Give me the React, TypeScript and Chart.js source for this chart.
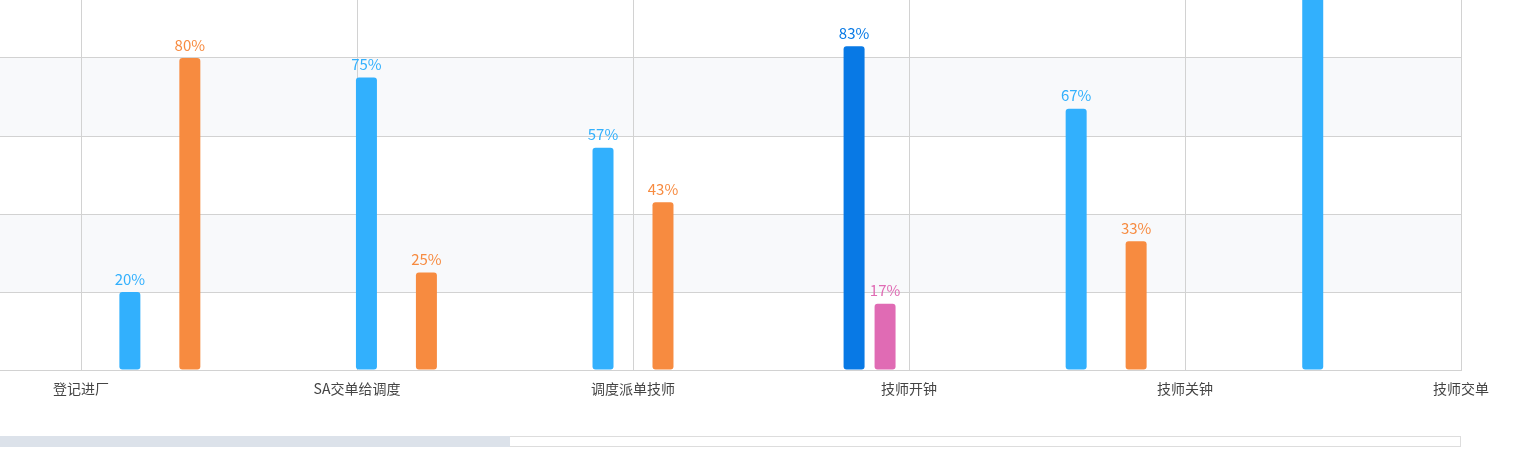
import { useEffect, useRef } from "react";
import { Chart, registerables, type ChartConfiguration, type Plugin } from "chart.js";

Chart.register(...registerables);

// process steps (first one sits left of the visible area)
const steps = ["预约", "登记进厂", "SA交单给调度", "调度派单技师", "技师开钟", "技师关钟", "技师交单"];
const onTimeRate = [null, 20, 75, 57, null, 67, 100];
const overtimeRate = [null, 80, 25, 43, null, 33, 0];
// the selected step is drawn with its own colours
const currentOnTime = [null, null, null, null, 83, null, null];
const currentOvertime = [null, null, null, null, 17, null, null];
const yTicks = [0, 20, 40, 60, 80, 100];

const BLUE = "#32b0fd";
const ORANGE = "#f78b40";
const DARK_BLUE = "#0879e5";
const PINK = "#e06bb4";
const GRID = "#d2d2d2";
const STRIPE = "#f8f9fb";
const FONT = '"Noto Sans CJK SC", "Noto Sans", sans-serif';

const stripePlugin: Plugin<"bar"> = {
  id: "stripes",
  beforeDraw(chart) {
    const { ctx, chartArea } = chart;
    const y = chart.scales.y;
    ctx.save();
    ctx.fillStyle = STRIPE;
    for (let i = 1; i < yTicks.length - 1; i += 2) {
      const top = y.getPixelForValue(yTicks[i + 1]);
      const bottom = y.getPixelForValue(yTicks[i]);
      ctx.fillRect(chartArea.left, top, chartArea.width, bottom - top);
    }
    ctx.restore();
  },
};

// percentage above each bar, empty values get no label
const valueLabelPlugin: Plugin<"bar"> = {
  id: "valueLabels",
  afterDatasetsDraw(chart) {
    const { ctx } = chart;
    ctx.save();
    ctx.font = `15px ${FONT}`;
    ctx.textAlign = "center";
    ctx.textBaseline = "middle";
    chart.data.datasets.forEach((ds, i) => {
      const meta = chart.getDatasetMeta(i);
      meta.data.forEach((bar, j) => {
        const v = ds.data[j] as number | null;
        if (!v) return;
        ctx.fillStyle = ds.backgroundColor as string;
        ctx.fillText(`${v}%`, bar.x, bar.y - 13);
      });
    });
    ctx.restore();
  },
};

export default function App() {
  const canvasRef = useRef<HTMLCanvasElement>(null);
  const chartRef = useRef<Chart | null>(null);

  useEffect(() => {
    if (!canvasRef.current) return;
    chartRef.current?.destroy();

    const pair = { categoryPercentage: 0.507, barPercentage: 0.35 };
    const currentPair = { categoryPercentage: 0.262, barPercentage: 0.677 };

    const config: ChartConfiguration<"bar"> = {
      type: "bar",
      data: {
        labels: steps,
        datasets: [
          { label: "按时", data: onTimeRate, backgroundColor: BLUE, ...pair },
          { label: "超时", data: overtimeRate, backgroundColor: ORANGE, ...pair },
          { label: "按时(当前)", data: currentOnTime, backgroundColor: DARK_BLUE, ...currentPair },
          { label: "超时(当前)", data: currentOvertime, backgroundColor: PINK, ...currentPair },
        ] as any,
      },
      options: {
        responsive: true,
        maintainAspectRatio: false,
        animation: false,
        layout: { padding: { left: 60, right: 60, top: 40, bottom: 0 } },
        datasets: {
          bar: { skipNull: true, borderRadius: 3, borderSkipped: false },
        } as any,
        plugins: {
          legend: { display: false },
          tooltip: { enabled: false },
        },
        scales: {
          x: { type: "category", display: false, offset: true },
          xl: {
            type: "category",
            position: "bottom",
            labels: steps,
            offset: false,
            grid: { color: GRID, drawTicks: false, offset: false },
            border: { color: GRID },
            ticks: {
              autoSkip: false,
              maxRotation: 0,
              padding: 10,
              color: "#444",
              font: { size: 14, family: FONT },
            },
            afterFit: (scale: any) => {
              scale.height = 40;
            },
          },
          y: {
            min: yTicks[0],
            max: yTicks[yTicks.length - 1],
            ticks: { display: false, stepSize: yTicks[1] - yTicks[0] },
            grid: { color: GRID, drawTicks: false },
            border: { display: false },
          },
        } as any,
      },
      plugins: [stripePlugin, valueLabelPlugin],
    };

    chartRef.current = new Chart(canvasRef.current, config);

    return () => {
      chartRef.current?.destroy();
      chartRef.current = null;
    };
  }, []);

  return (
    <div
      style={{
        position: "fixed",
        left: 0,
        top: 0,
        width: 1521,
        height: 474,
        overflow: "hidden",
        background: "#fff",
      }}
    >
      <div style={{ position: "absolute", left: -255, top: -60, width: 1776, height: 470 }}>
        <canvas ref={canvasRef} />
      </div>
      {/* data zoom slider */}
      <div
        style={{
          position: "absolute",
          left: -10,
          top: 436,
          width: 1471,
          height: 11,
          boxSizing: "border-box",
          border: "1px solid #dddddd",
          background: "#fff",
        }}
      >
        <div style={{ position: "absolute", left: 0, top: -1, width: 519, height: 11, background: "#dce2ea" }} />
      </div>
    </div>
  );
}
